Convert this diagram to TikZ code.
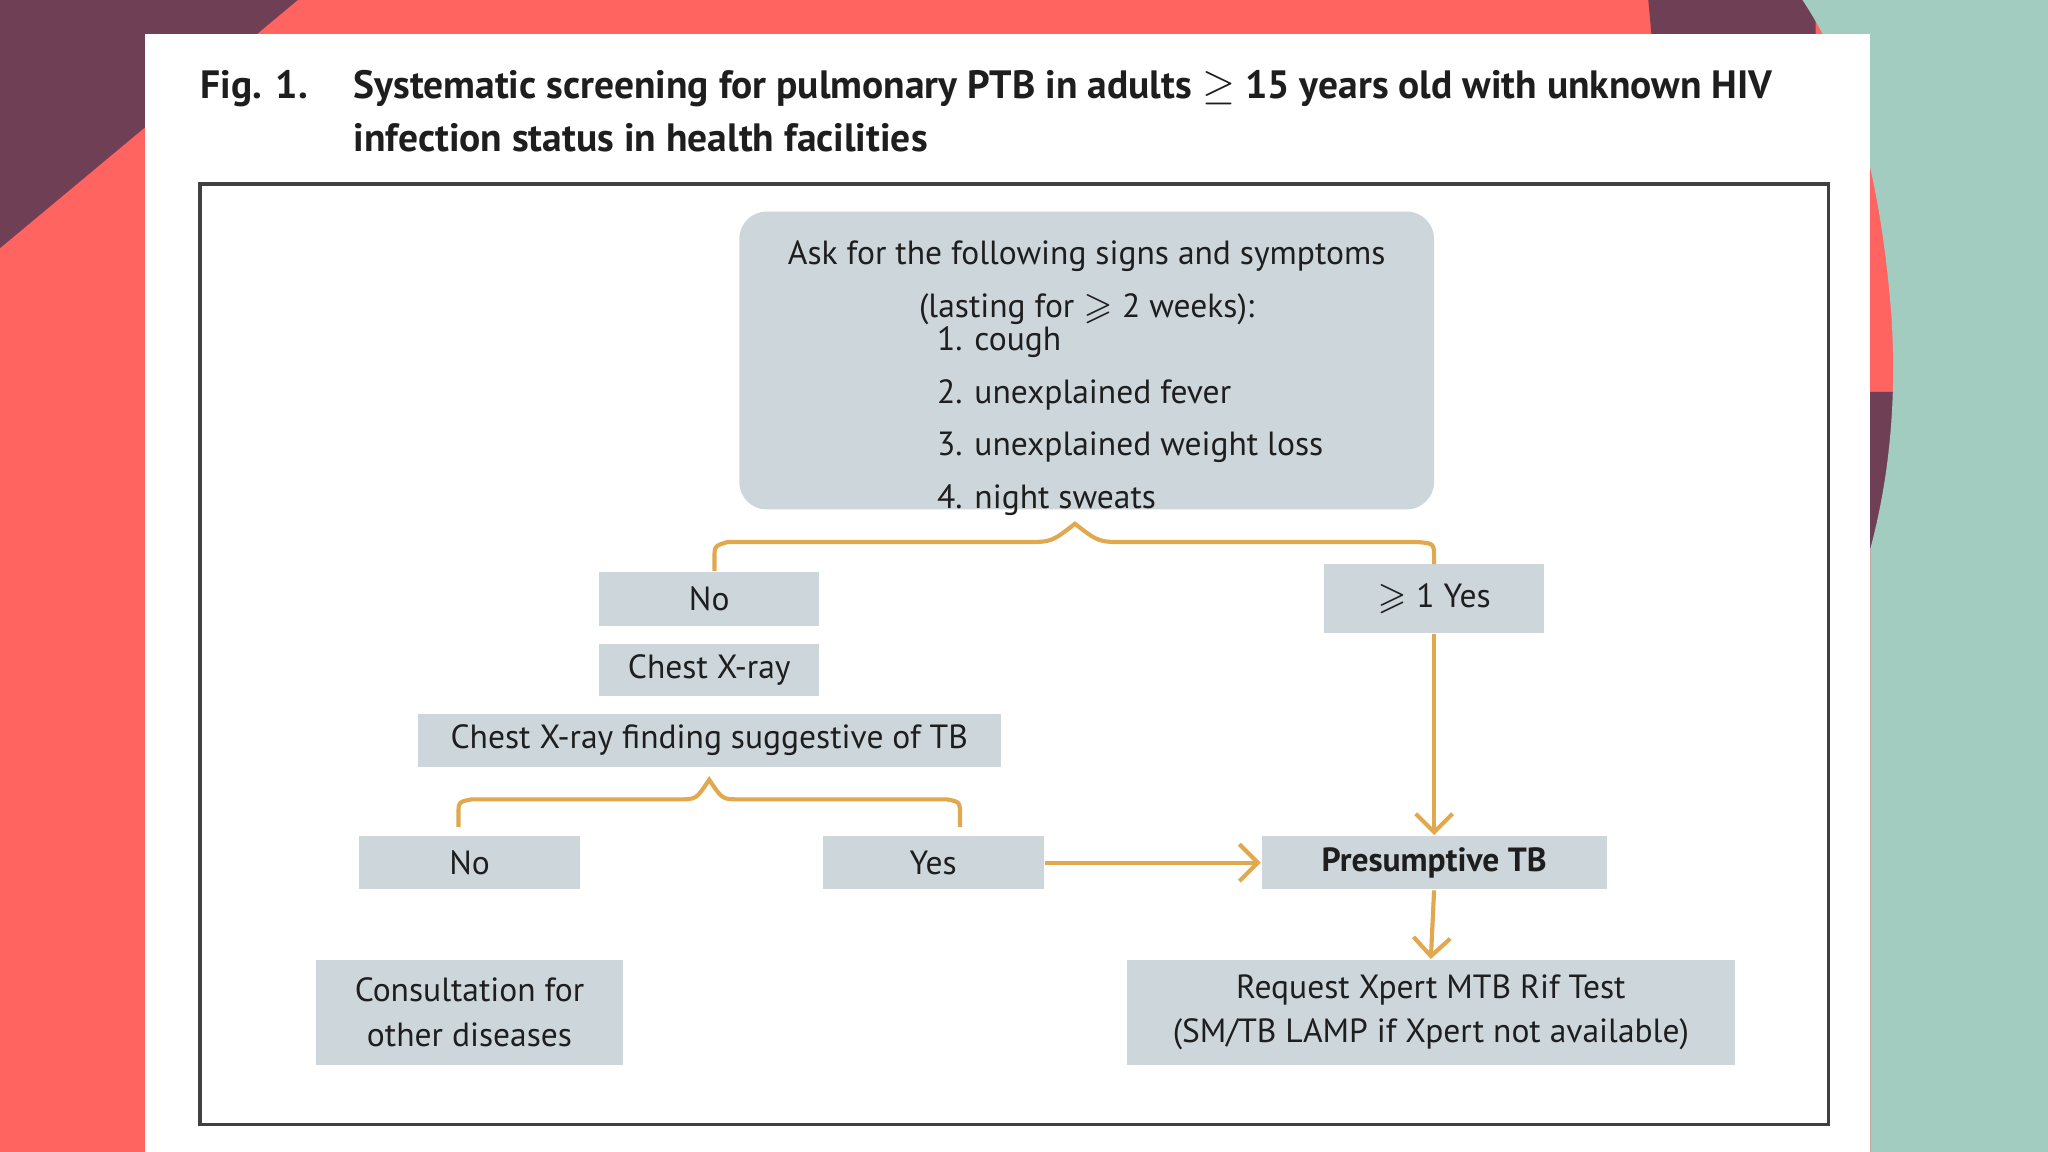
\documentclass[tikz,border=0pt]{standalone}
\usepackage{amssymb}
\usepackage{fontspec}
\setmainfont{PT Sans}
\usetikzlibrary{arrows.meta}
\definecolor{bgred}{HTML}{FF6461}
\definecolor{bgpurple}{HTML}{6E3F55}
\definecolor{bgteal}{HTML}{A2CCC0}
\definecolor{boxfill}{HTML}{CDD6DB}
\definecolor{orng}{HTML}{E1A84D}
\definecolor{txt}{HTML}{1E1E1E}
\begin{document}
\begin{tikzpicture}[x=0.01cm,y=-0.01cm,
  box/.style={fill=boxfill,draw=none,inner sep=0pt,text=txt,font=\fontsize{7.3}{9.6}\selectfont,align=center},
  conn/.style={draw=orng,line width=0.9pt},
  arr/.style={conn,-{Straight Barb[length=4pt,width=8pt]}}]
\useasboundingbox (0,0) rectangle (1568,882);
\fill[bgred] (0,0) rectangle (1568,882);
\fill[bgpurple] (0,0) -- (228,0) -- (0,190) -- cycle;
\fill[bgpurple] (1262,0) -- (1390,0) -- (1390,300) -- (1450,300) .. controls (1452,340) and (1445,380) .. (1432,420) -- (1300,420) -- cycle;
\fill[bgteal] (1380,0) -- (1568,0) -- (1568,882) -- (1432,882) -- (1432,420) .. controls (1448,360) and (1452,300) .. (1448,240) .. controls (1440,140) and (1420,60) .. (1380,0) -- cycle;
\fill[white] (111,26) rectangle (1432,882);
\node[anchor=north west,inner sep=0pt,font=\fontsize{8.6}{11.5}\selectfont\bfseries,text=txt] (fig) at (153,53) {Fig. 1.};
\node[anchor=north west,inner sep=0pt,font=\fontsize{8.6}{11.5}\selectfont\bfseries,text=txt,align=left] (title) at (270,53) {Systematic screening for pulmonary PTB in adults $\geq$ 15 years old with unknown HIV\\infection status in health facilities};
\draw[line width=0.8pt,draw=black!75] (153,141) rectangle (1400,861);
\node[box,rounded corners=6pt,minimum width=532\pgflinewidth/\pgflinewidth*0.01cm,minimum height=2.28cm,text width=5.1cm] (ask) at (832,276) {};
\node[font=\fontsize{7.3}{11.4}\selectfont,text=txt,align=center,anchor=north] (asktxt) at (832,172) {Ask for the following signs and symptoms\\(lasting for $\geqslant$ 2 weeks):};
\node[font=\fontsize{7.3}{11.4}\selectfont,text=txt,align=left,anchor=north west] (list) at (705,238) {1. cough\\2. unexplained fever\\3. unexplained weight loss\\4. night sweats};
\node[box,minimum width=1.68cm,minimum height=0.41cm] (no1) at (543,458.5) {No};
\node[box,minimum width=1.68cm,minimum height=0.40cm] (cxr) at (543,513) {Chest X-ray};
\node[box,minimum width=4.46cm,minimum height=0.40cm] (cxrf) at (543,567) {Chest X-ray finding suggestive of TB};
\node[box,minimum width=1.68cm,minimum height=0.53cm] (yes1) at (1098,458.5) {$\geqslant$ 1 Yes};
\node[box,minimum width=1.69cm,minimum height=0.41cm] (no2) at (359.5,660.5) {No};
\node[box,minimum width=1.69cm,minimum height=0.41cm] (yes2) at (714.5,660.5) {Yes};
\node[box,minimum width=2.64cm,minimum height=0.41cm,font=\fontsize{7.3}{9.6}\selectfont\bfseries] (pres) at (1098,660.5) {Presumptive TB};
\node[box,minimum width=2.35cm,minimum height=0.80cm] (cons) at (359.5,775) {Consultation for\\other diseases};
\node[box,minimum width=4.65cm,minimum height=0.80cm] (req) at (1095.5,775) {Request Xpert MTB Rif Test\\(SM/TB LAMP if Xpert not available)};
% braces
\coordinate (b1) at (823,401);
\draw[conn] (547,437) -- (547,428) .. controls (547,418) .. (557,415) -- (785,415) .. controls (805,415) .. (823,401) .. controls (841,415) .. (861,415) -- (1085,415) .. controls (1098,416) .. (1098,428) -- (1098,432);
\coordinate (b2) at (543,597);
\draw[conn] (351,633) -- (351,624) .. controls (351,614) .. (361,612) -- (520,612) .. controls (533,612) .. (543,597) .. controls (553,612) .. (566,612) -- (725,612) .. controls (735,614) .. (735,624) -- (735,633);
\draw[arr] (yes1.south) -- (pres.north);
\draw[arr] (yes2.east) -- (pres.west);
\draw[arr] (pres.south) -- (req.north);
\end{tikzpicture}
\end{document}
